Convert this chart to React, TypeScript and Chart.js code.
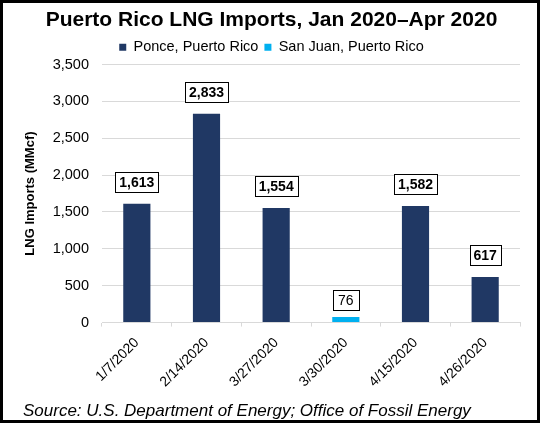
import React, { useEffect, useRef } from "react";
import { Chart, registerables } from "chart.js";

Chart.register(...registerables);

const categories = ["1/7/2020", "2/14/2020", "3/27/2020", "3/30/2020", "4/15/2020", "4/26/2020"];
const ponce = [1613, 2833, 1554, null, 1582, 617];
const sanJuan = [null, null, null, 76, null, null];
const yTicks = [0, 500, 1000, 1500, 2000, 2500, 3000, 3500];

const FONT = "Arial, 'Liberation Sans', sans-serif";

const labelPlugin = {
  id: "boxLabels",
  afterDatasetsDraw(chart: any) {
    const ctx = chart.ctx;
    chart.data.datasets.forEach((ds: any, di: number) => {
      const meta = chart.getDatasetMeta(di);
      meta.data.forEach((el: any, i: number) => {
        const v = ds.data[i];
        if (v === null || v === undefined) return;
        const text = v.toLocaleString("en-US");
        const bold = di === 0;
        ctx.save();
        ctx.font = (bold ? "bold " : "") + "14px " + FONT;
        const w = Math.round(ctx.measureText(text).width + (bold ? 8 : 10));
        const h = 20;
        const cx = el.x;
        const bottom = el.y - (bold ? 12 : 7);
        const x0 = Math.round(cx - w / 2) + 0.5;
        const y0 = Math.round(bottom - h) + 0.5;
        ctx.fillStyle = "#fff";
        ctx.fillRect(x0, y0, w, h);
        ctx.strokeStyle = "#000";
        ctx.lineWidth = 1;
        ctx.strokeRect(x0, y0, w, h);
        ctx.fillStyle = "#000";
        ctx.textAlign = "center";
        ctx.textBaseline = "middle";
        ctx.fillText(text, cx, y0 + h / 2 + 0.5);
        ctx.restore();
      });
    });
  },
};

export default function App() {
  const ref = useRef<HTMLCanvasElement>(null);
  useEffect(() => {
    document.body.style.margin = "0";
    const chart = new Chart(ref.current!, {
      type: "bar",
      data: {
        labels: categories,
        datasets: [
          { label: "Ponce, Puerto Rico", data: ponce, backgroundColor: "#203864", barPercentage: 0.39, categoryPercentage: 1 },
          { label: "San Juan, Puerto Rico", data: sanJuan, backgroundColor: "#00B0F0", barPercentage: 0.39, categoryPercentage: 1 },
        ],
      },
      options: {
        animation: false,
        responsive: false,
        devicePixelRatio: 1,
        layout: { padding: { left: 20, right: 17, top: 7, bottom: 0 } },
        plugins: {
          title: {
            display: true,
            text: "Puerto Rico LNG Imports, Jan 2020\u2013Apr 2020",
            color: "#000",
            font: { family: FONT, size: 21, weight: "bold", lineHeight: 1 },
            padding: { top: 0, bottom: 3 },
          },
          legend: {
            display: true,
            labels: {
              boxWidth: 7,
              boxHeight: 7,
              color: "#000",
              font: { family: FONT, size: 14.5 },
              padding: 6,
            },
          },
          subtitle: {
            display: true,
            position: "bottom",
            align: "start",
            text: "Source: U.S. Department of Energy; Office of Fossil Energy",
            color: "#000",
            font: { family: FONT, size: 17, style: "italic", lineHeight: 1 },
            padding: { top: 4.5, bottom: 0 },
          },
          tooltip: { enabled: false },
        },
        scales: {
          x: {
            stacked: true,
            grid: { display: true, drawOnChartArea: false, drawTicks: true, tickLength: 4, color: "#d9d9d9", offset: true },
            border: { color: "#d9d9d9" },
            ticks: {
              color: "#000",
              font: { family: FONT, size: 14 },
              maxRotation: 45,
              minRotation: 45,
              padding: 8,
            },
            afterFit: (scale: any) => {
              scale.paddingLeft = 0;
              scale.paddingRight = 0;
            },
          },
          y: {
            stacked: true,
            min: 0,
            max: 3500,
            afterBuildTicks: (axis: any) => {
              axis.ticks = yTicks.map((v) => ({ value: v }));
            },
            afterFit: (scale: any) => {
              scale.width = 79;
            },
            grid: { color: "#d9d9d9", drawTicks: false },
            border: { display: false },
            ticks: {
              color: "#000",
              padding: 13,
              font: { family: FONT, size: 14.5 },
              callback: (v: any) => Number(v).toLocaleString("en-US"),
            },
            title: {
              display: true,
              text: "LNG Imports (MMcf)",
              color: "#000",
              font: { family: FONT, size: 13, weight: "bold" },
              padding: { top: 0, bottom: 14 },
            },
          },
        },
      },
      plugins: [labelPlugin],
    });
    return () => chart.destroy();
  }, []);
  return (
    <div style={{ width: 540, height: 423, border: "3px solid #000", boxSizing: "border-box", background: "#fff" }}>
      <canvas ref={ref} width={534} height={417} style={{ display: "block" }} />
    </div>
  );
}
